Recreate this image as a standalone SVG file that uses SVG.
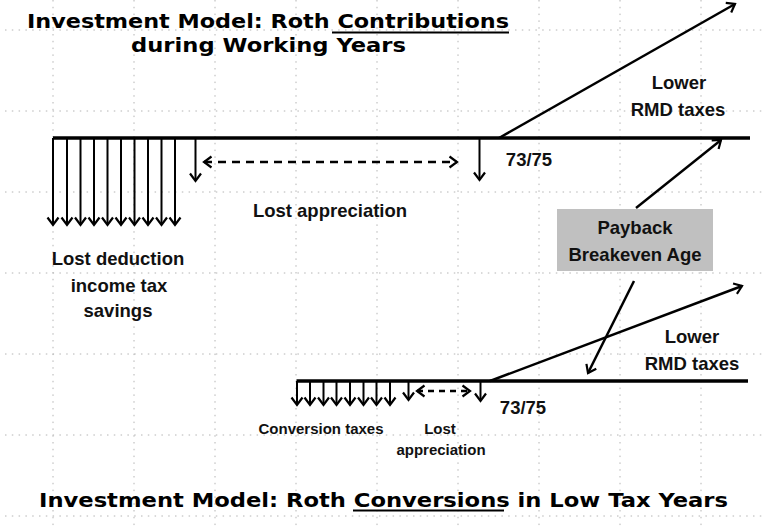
<svg xmlns="http://www.w3.org/2000/svg" width="768" height="526" viewBox="0 0 768 526">
<defs>
<style>
.grid{stroke:#b4b4b4;stroke-width:1;stroke-dasharray:1.5 5.3;fill:none}
.tl{stroke:#000;stroke-width:3.5;fill:none}
.ar{stroke:#000;stroke-width:2;fill:none;marker-end:url(#ah)}
.sl{stroke:#000;stroke-width:2.5;fill:none;marker-end:url(#ah)}
.da{stroke:#000;stroke-width:2.5;fill:none;stroke-dasharray:8 6;marker-start:url(#ah);marker-end:url(#ah)}
.db{stroke:#000;stroke-width:2.5;fill:none;stroke-dasharray:6 5;marker-start:url(#ah);marker-end:url(#ah)}
.title{font-family:"DejaVu Sans",Verdana,sans-serif;font-weight:bold;font-size:20px;fill:#000}
.lbl{font-family:"Liberation Sans",Arial,sans-serif;font-weight:bold;font-size:18.5px;fill:#111;text-anchor:middle}
.sm{font-family:"Liberation Sans",Arial,sans-serif;font-weight:bold;font-size:15px;fill:#111;text-anchor:middle}
</style>
<marker id="ah" markerUnits="userSpaceOnUse" markerWidth="16" markerHeight="16" refX="0" refY="0" viewBox="-9 -8 12 16" orient="auto-start-reverse" overflow="visible">
<path d="M-7.5,-5.5 L0,0 L-7.5,5.5" fill="none" stroke="#000" stroke-width="2.2" stroke-linejoin="miter"/>
</marker>
</defs>
<rect width="768" height="526" fill="#fff"/>
<g id="grid">
<path class="grid" d="M53,0V526M134,0V526M215,0V526M296,0V526M377,0V526M458,0V526M539,0V526M620,0V526M701,0V526"/>
<path class="grid" d="M5,30H765M5,111H765M5,192H765M5,273H765M5,354H765M5,435H765M5,516H765"/>
</g>
<g id="title-top">
<text class="title" x="27" y="28" textLength="482" lengthAdjust="spacingAndGlyphs">Investment Model: Roth Contributions</text>
<line x1="332" y1="32.5" x2="509" y2="32.5" stroke="#000" stroke-width="2"/>
<text class="title" x="131" y="52" textLength="275" lengthAdjust="spacingAndGlyphs">during Working Years</text>
</g>
<g id="connectors">
<line class="tl" x1="53" y1="138" x2="750" y2="138"/>
<line class="ar" x1="53" y1="138" x2="53" y2="225"/>
<line class="ar" x1="67" y1="138" x2="67" y2="225"/>
<line class="ar" x1="80.5" y1="138" x2="80.5" y2="225"/>
<line class="ar" x1="94" y1="138" x2="94" y2="225"/>
<line class="ar" x1="107.5" y1="138" x2="107.5" y2="225"/>
<line class="ar" x1="121" y1="138" x2="121" y2="225"/>
<line class="ar" x1="134.5" y1="138" x2="134.5" y2="225"/>
<line class="ar" x1="148" y1="138" x2="148" y2="225"/>
<line class="ar" x1="161.5" y1="138" x2="161.5" y2="225"/>
<line class="ar" x1="175" y1="138" x2="175" y2="225"/>
<line class="ar" x1="195.5" y1="138" x2="195.5" y2="181"/>
<line class="da" x1="204" y1="162" x2="457" y2="162"/>
<line class="ar" x1="479.5" y1="138" x2="479.5" y2="180"/>
<line class="sl" x1="499" y1="138" x2="735" y2="4"/>
<line class="sl" x1="636" y1="208" x2="721" y2="140"/>
<line class="sl" x1="634" y1="281" x2="588" y2="373"/>
<line class="tl" x1="296.5" y1="381" x2="748" y2="381"/>
<line class="ar" x1="297" y1="381" x2="297" y2="405"/>
<line class="ar" x1="310" y1="381" x2="310" y2="405"/>
<line class="ar" x1="323.5" y1="381" x2="323.5" y2="405"/>
<line class="ar" x1="336.5" y1="381" x2="336.5" y2="405"/>
<line class="ar" x1="350" y1="381" x2="350" y2="405"/>
<line class="ar" x1="363.5" y1="381" x2="363.5" y2="405"/>
<line class="ar" x1="376.5" y1="381" x2="376.5" y2="405"/>
<line class="ar" x1="390" y1="381" x2="390" y2="405"/>
<line class="ar" x1="408.5" y1="381" x2="408.5" y2="400"/>
<line class="db" x1="417" y1="391" x2="470" y2="391"/>
<line class="ar" x1="480.5" y1="381" x2="480.5" y2="401"/>
<line class="sl" x1="490" y1="381" x2="742" y2="286"/>
</g>
<g id="label-lost-appreciation-top"><text class="lbl" x="330" y="217">Lost appreciation</text></g>
<g id="label-lost-deduction">
<text class="lbl" x="118" y="265">Lost deduction</text>
<text class="lbl" x="119" y="292">income tax</text>
<text class="lbl" x="118" y="317">savings</text>
</g>
<g id="label-7375-top"><text class="lbl" x="529" y="166">73/75</text></g>
<g id="label-rmd-top">
<text class="lbl" x="679" y="89">Lower</text>
<text class="lbl" x="678" y="116">RMD taxes</text>
</g>
<g id="node-payback">
<rect x="557" y="209" width="156" height="62" fill="#c0c0c0"/>
<text class="lbl" x="635" y="234">Payback</text>
<text class="lbl" x="635" y="261">Breakeven Age</text>
</g>
<g id="label-rmd-bottom">
<text class="lbl" x="692" y="343">Lower</text>
<text class="lbl" x="692" y="370">RMD taxes</text>
</g>
<g id="label-7375-bottom"><text class="lbl" x="523" y="414">73/75</text></g>
<g id="label-conversion-taxes"><text class="sm" x="321" y="434">Conversion taxes</text></g>
<g id="label-lost-appreciation-bottom">
<text class="sm" x="440" y="434">Lost</text>
<text class="sm" x="441" y="455">appreciation</text>
</g>
<g id="title-bottom">
<text class="title" x="39" y="507" textLength="689" lengthAdjust="spacingAndGlyphs">Investment Model: Roth Conversions in Low Tax Years</text>
<line x1="353" y1="510.5" x2="504" y2="510.5" stroke="#000" stroke-width="2"/>
</g>
</svg>
